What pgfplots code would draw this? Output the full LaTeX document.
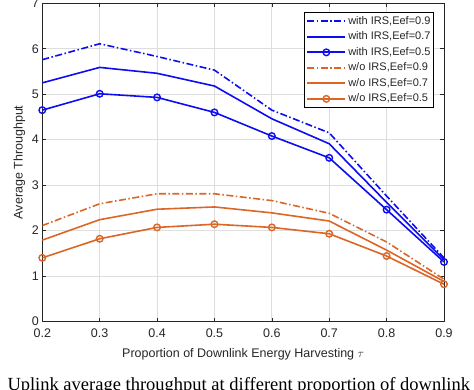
\documentclass[border=0pt]{standalone}
\usepackage{fontspec}
\setmainfont{Liberation Sans}
\newfontfamily\capfont{Liberation Serif}
\usepackage{pgfplots}
\pgfplotsset{compat=1.18}
\definecolor{mblue}{rgb}{0.05,0.05,0.95}
\definecolor{morange}{rgb}{0.86,0.40,0.15}
\definecolor{axgray}{rgb}{0.15,0.15,0.15}
\begin{document}
\begin{tikzpicture}
\begin{axis}[
  at={(0pt,0pt)}, anchor=south west,
  scale only axis, width=401.7pt, height=318.2pt,
  xmin=0.2, xmax=0.9, ymin=0, ymax=7,
  xtick={0.2,0.3,0.4,0.5,0.6,0.7,0.8,0.9},
  xticklabels={0.2,0.3,0.4,0.5,0.6,0.7,0.8,0.9},
  ytick={0,1,2,3,4,5,6,7},
  grid=major,
  major grid style={black!13, line width=0.7pt},
  axis line style={axgray, line width=1pt},
  tick style={axgray, line width=0.6pt},
  tick align=inside, major tick length=4pt,
  /pgf/number format/assume math mode=true,
  ticklabel style={font=\fontsize{12.5}{14}\selectfont, text=axgray},
  every x tick label/.append style={yshift=-3.3pt},
  label style={font=\fontsize{12.5}{14}\selectfont, text=axgray},
  xlabel={Proportion of Downlink Energy Harvesting $\tau$},
  xlabel style={at={(axis description cs:0.5,-0.1025)}, anchor=center},
  ylabel={Average Throughput},
  ylabel style={at={(axis description cs:-0.0572,0.5)}, anchor=center},
  legend style={at={(axis description cs:0.9751,0.9716)}, anchor=north east,
    draw=black, line width=1pt, fill=white, inner sep=2pt,
    font=\fontsize{11}{13}\selectfont, text=black!85,
    row sep=2.5pt, column sep=1pt,
    nodes={inner sep=1pt, text height=8.5pt, text depth=2.5pt}},
  legend cell align=left,
  legend image code/.code={%
    \draw[line width=1.8pt, #1, mark=none] (0pt,0pt) -- (38pt,0pt);
    \draw[line width=1.6pt, #1] plot coordinates {(19pt,0pt)};},
  every axis plot/.append style={line width=1.6pt},
]
\addplot[mblue, dash pattern=on 7pt off 2.5pt on 1.5pt off 2.5pt] coordinates {
  (0.2,5.76) (0.3,6.11) (0.4,5.83) (0.5,5.53) (0.6,4.65) (0.7,4.15) (0.8,2.76) (0.9,1.40)};
\addlegendentry{with IRS,Eef=0.9}
\addplot[mblue] coordinates {
  (0.2,5.25) (0.3,5.59) (0.4,5.46) (0.5,5.18) (0.6,4.46) (0.7,3.91) (0.8,2.62) (0.9,1.36)};
\addlegendentry{with IRS,Eef=0.7}
\addplot[mblue, mark=o, mark size=3.3pt, mark options={solid, line width=1.4pt}] coordinates {
  (0.2,4.65) (0.3,5.01) (0.4,4.93) (0.5,4.60) (0.6,4.08) (0.7,3.60) (0.8,2.46) (0.9,1.31)};
\addlegendentry{with IRS,Eef=0.5}
\addplot[morange, dash pattern=on 7pt off 2.5pt on 1.5pt off 2.5pt] coordinates {
  (0.2,2.11) (0.3,2.59) (0.4,2.81) (0.5,2.81) (0.6,2.66) (0.7,2.38) (0.8,1.75) (0.9,0.93)};
\addlegendentry{w/o IRS,Eef=0.9}
\addplot[morange] coordinates {
  (0.2,1.79) (0.3,2.24) (0.4,2.47) (0.5,2.52) (0.6,2.39) (0.7,2.21) (0.8,1.57) (0.9,0.88)};
\addlegendentry{w/o IRS,Eef=0.7}
\addplot[morange, mark=o, mark size=3.3pt, mark options={solid, line width=1.4pt}] coordinates {
  (0.2,1.40) (0.3,1.82) (0.4,2.07) (0.5,2.14) (0.6,2.07) (0.7,1.93) (0.8,1.44) (0.9,0.82)};
\addlegendentry{w/o IRS,Eef=0.5}
\end{axis}
\node[anchor=base west, inner sep=0pt, font=\capfont\fontsize{18.5}{20}\selectfont] at (-35pt,-68.7pt)
  {Uplink average throughput at different proportion of downlink};
\pgfresetboundingbox
\useasboundingbox (-42.3pt,-67.5pt) rectangle (431.7pt,321.5pt);
\end{tikzpicture}
\end{document}
